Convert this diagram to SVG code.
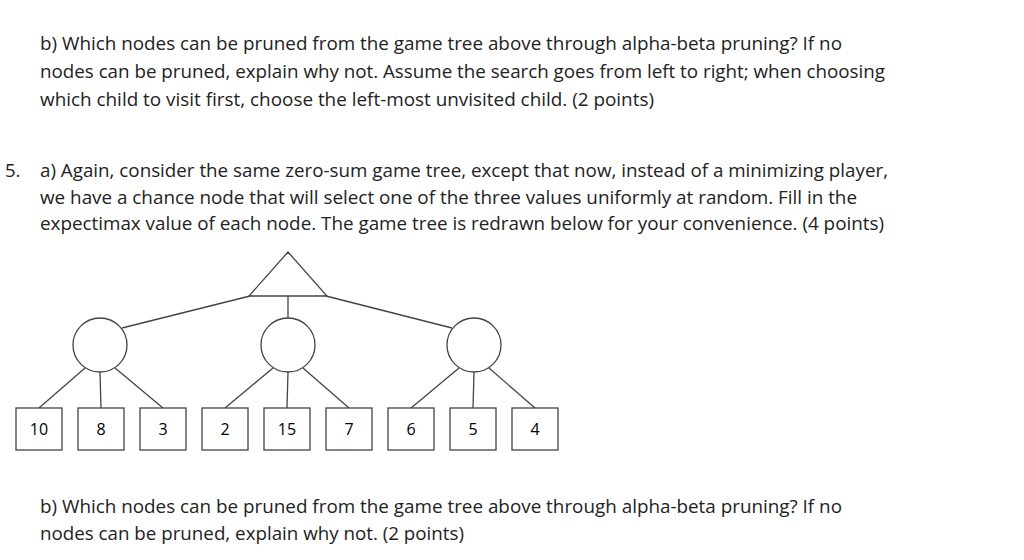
<svg xmlns="http://www.w3.org/2000/svg" width="1024" height="560" viewBox="0 0 1024 560">
<style>
.t{font-family:"Open Sans","Noto Sans",sans-serif;font-size:18.5px;fill:#222}
.n{font-family:"Open Sans","Noto Sans",sans-serif;font-size:16px;fill:#000;text-anchor:middle}
.s{fill:#fff;stroke:#444;stroke-width:1.3}
line{stroke:#444;stroke-width:1.3}
</style>
<rect width="1024" height="560" fill="#fff"/>
<g id="text">
<text class="t" x="40" y="50" textLength="802" lengthAdjust="spacingAndGlyphs">b) Which nodes can be pruned from the game tree above through alpha-beta pruning? If no</text>
<text class="t" x="40" y="78" textLength="845" lengthAdjust="spacingAndGlyphs">nodes can be pruned, explain why not. Assume the search goes from left to right; when choosing</text>
<text class="t" x="40" y="106" textLength="614" lengthAdjust="spacingAndGlyphs">which child to visit first, choose the left-most unvisited child. (2 points)</text>
<text class="t" x="5" y="177">5.</text>
<text class="t" x="40" y="177" textLength="848" lengthAdjust="spacingAndGlyphs">a) Again, consider the same zero-sum game tree, except that now, instead of a minimizing player,</text>
<text class="t" x="40" y="204" textLength="817" lengthAdjust="spacingAndGlyphs">we have a chance node that will select one of the three values uniformly at random. Fill in the</text>
<text class="t" x="40" y="230" textLength="844" lengthAdjust="spacingAndGlyphs">expectimax value of each node. The game tree is redrawn below for your convenience. (4 points)</text>
<text class="t" x="40" y="513" textLength="802" lengthAdjust="spacingAndGlyphs">b) Which nodes can be pruned from the game tree above through alpha-beta pruning? If no</text>
<text class="t" x="40" y="540" textLength="424" lengthAdjust="spacingAndGlyphs">nodes can be pruned, explain why not. (2 points)</text>
</g>
<g id="connectors">
<line x1="250" y1="296" x2="122" y2="328"/>
<line x1="288" y1="296" x2="288" y2="318"/>
<line x1="326" y1="296" x2="452" y2="328"/>
<line x1="85" y1="368" x2="39" y2="408"/>
<line x1="100" y1="372" x2="101" y2="408"/>
<line x1="115" y1="368" x2="163" y2="408"/>
<line x1="273" y1="368" x2="225" y2="408"/>
<line x1="288" y1="372" x2="287" y2="408"/>
<line x1="303" y1="368" x2="349" y2="408"/>
<line x1="459" y1="368" x2="411" y2="408"/>
<line x1="474" y1="372" x2="473" y2="408"/>
<line x1="489" y1="368" x2="535" y2="408"/>
</g>
<g id="root"><polygon class="s" points="288,252 249,296 327,296"/></g>
<g id="c1"><circle class="s" cx="100" cy="345" r="27"/></g>
<g id="c2"><circle class="s" cx="288" cy="345" r="27"/></g>
<g id="c3"><circle class="s" cx="474" cy="345" r="27"/></g>
<g id="l1"><rect class="s" x="16" y="408" width="46" height="42"/><text class="n" x="39" y="435">10</text></g>
<g id="l2"><rect class="s" x="78" y="408" width="46" height="42"/><text class="n" x="101" y="435">8</text></g>
<g id="l3"><rect class="s" x="140" y="408" width="46" height="42"/><text class="n" x="163" y="435">3</text></g>
<g id="l4"><rect class="s" x="202" y="408" width="46" height="42"/><text class="n" x="225" y="435">2</text></g>
<g id="l5"><rect class="s" x="264" y="408" width="46" height="42"/><text class="n" x="287" y="435">15</text></g>
<g id="l6"><rect class="s" x="326" y="408" width="46" height="42"/><text class="n" x="349" y="435">7</text></g>
<g id="l7"><rect class="s" x="388" y="408" width="46" height="42"/><text class="n" x="411" y="435">6</text></g>
<g id="l8"><rect class="s" x="450" y="408" width="46" height="42"/><text class="n" x="473" y="435">5</text></g>
<g id="l9"><rect class="s" x="512" y="408" width="46" height="42"/><text class="n" x="535" y="435">4</text></g>
</svg>
